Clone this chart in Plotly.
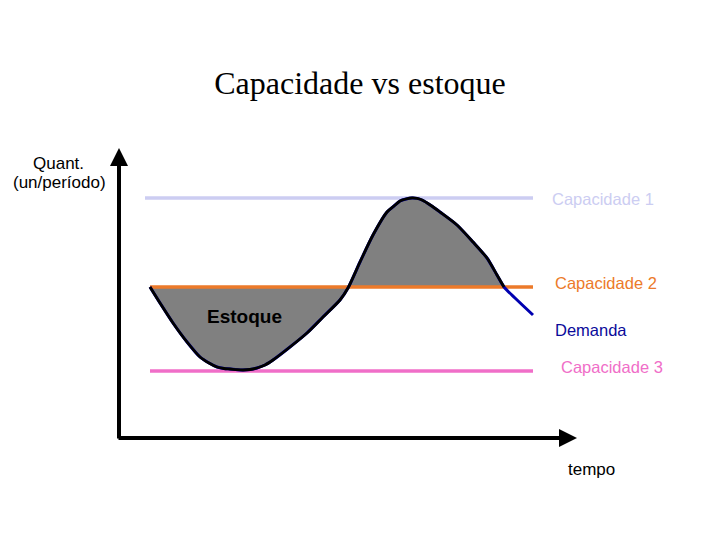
import plotly.graph_objects as go

# diagram units: x = tempo, y = quantidade (origin at the axes corner)
tempo = [31, 41, 54, 68, 81, 90, 98, 105, 111, 118, 124, 131, 138, 146, 154,
         171, 188, 204, 221, 229, 241, 254, 268, 275, 281, 287, 293, 298, 303,
         312, 321, 338, 354, 368, 378, 385, 396, 414]
demanda = [151, 135, 115, 96, 81, 75, 71, 69.5, 69, 68.3, 68, 68.5, 70, 73, 78,
           91, 105, 121, 138, 150, 176, 203, 226, 232, 237, 239, 240, 239.6, 238,
           232.5, 226, 213, 196, 180, 163, 151, 140, 123]

cap_names = ["Capacidade 1", "Capacidade 2", "Capacidade 3"]
cap_levels = [240, 151, 67]
cap_start = [26, 31, 31]
cap_end = [414, 414, 414]
cap_colors = ["#cccdf2", "#ec7a2a", "#f06ec8"]

n_fill = tempo.index(385) + 1  # curve section where stock is drawn
curve = dict(shape="spline", smoothing=0.7)

fig = go.Figure()

# estoque: area between demand and capacidade 2 (closed along capacidade 2)
fig.add_trace(go.Scatter(
    x=tempo[:n_fill], y=demanda[:n_fill],
    fill="toself", fillcolor="#808080", mode="lines",
    line=dict(width=0, **curve), hoverinfo="skip"))

for name, lvl, x0, x1, col in zip(cap_names, cap_levels, cap_start, cap_end, cap_colors):
    fig.add_trace(go.Scatter(x=[x0, x1], y=[lvl, lvl], mode="lines",
                             line=dict(color=col, width=3.5), name=name))

fig.add_trace(go.Scatter(x=tempo, y=demanda, mode="lines",
                         line=dict(color="#0000b0", width=3, **curve),
                         name="Demanda"))
fig.add_trace(go.Scatter(x=tempo[:n_fill], y=demanda[:n_fill], mode="lines",
                         line=dict(color="black", width=2.8, **curve),
                         hoverinfo="skip"))

# axes with arrows
arrow = dict(showarrow=True, arrowhead=2, arrowsize=0.9, arrowwidth=4,
             arrowcolor="black", xref="x", yref="y", axref="x", ayref="y", text="")
fig.add_annotation(x=0, y=290, ax=0, ay=-2, **arrow)
fig.add_annotation(x=458, y=0, ax=-2, ay=0, **arrow)

sans = "Liberation Sans, Arial, sans-serif"
label_x = [431, 434, 440]
label_y = [239, 155, 71]
for name, lx, ly, col in zip(cap_names, label_x, label_y, cap_colors):
    fig.add_annotation(x=lx, y=ly, text=name, showarrow=False, xanchor="left",
                       font=dict(family=sans, size=16.5, color=col))
fig.add_annotation(x=434, y=108, text="Demanda", showarrow=False, xanchor="left",
                   font=dict(family=sans, size=16.5, color="#0a0a9a"))
fig.add_annotation(x=447, y=-31, text="tempo", showarrow=False, xanchor="left",
                   font=dict(family=sans, size=17, color="black"))
fig.add_annotation(x=125, y=122, text="<b>Estoque</b>", showarrow=False,
                   font=dict(family=sans, size=19, color="black"))
fig.add_annotation(x=-61, y=275, text="Quant.", showarrow=False,
                   font=dict(family=sans, size=17, color="black"))
fig.add_annotation(x=-60, y=256, text="(un/período)", showarrow=False,
                   font=dict(family=sans, size=17, color="black"))

# page has an 8px body margin, so the ranges are offset by 8px
fig.update_layout(
    width=720, height=540,
    margin=dict(l=0, r=0, t=0, b=0),
    paper_bgcolor="white", plot_bgcolor="white",
    showlegend=False,
    title=dict(text="Capacidade vs estoque", x=352 / 720, xanchor="center",
               y=1 - 75 / 540, yanchor="middle",
               font=dict(family="Liberation Serif, Times New Roman, serif",
                         size=32, color="black")),
    xaxis=dict(range=[-111, 609], visible=False, fixedrange=True),
    yaxis=dict(range=[-110, 430], visible=False, fixedrange=True),
)

fig.write_html("out.html")
